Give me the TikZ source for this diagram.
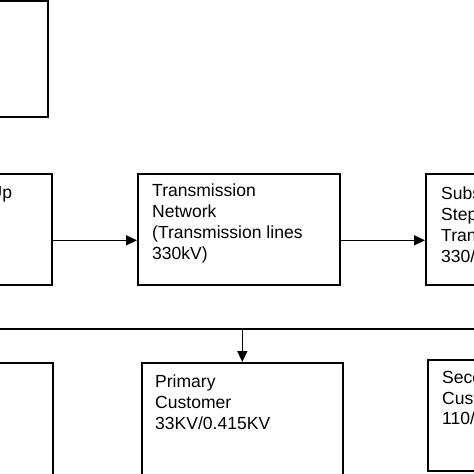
\documentclass[tikz,border=0pt]{standalone}
\usepackage{fontspec}
\setmainfont{Liberation Sans}
\usetikzlibrary{arrows.meta}
\begin{document}
\begin{tikzpicture}[x=1bp,y=-1bp,
    box/.style={draw,line width=1.6bp,inner sep=0,anchor=north west},
    txt/.style={anchor=north west,inner sep=0,align=left,font=\fontsize{17.6}{20.8}\selectfont},
    arr/.style={line width=1.5bp,-{Triangle[length=11bp,width=10bp]}}]
    \useasboundingbox (0,0) rectangle (474,474);
    \clip (0,0) rectangle (474,474);
    \def\h{111bp}
    % top row
    \node[box,minimum width=107bp,minimum height=115.5bp] (gen) at (-60,0.5) {};
    % middle row
    \node[box,minimum width=111bp,minimum height=\h] (stepup) at (-60,173) {};
    \node[box,minimum width=202bp,minimum height=\h] (trans) at (137,173) {};
    \node[box,minimum width=120bp,minimum height=\h] (subst) at (425,173) {};
    \node[txt] (stepuptxt) at ([shift={(49.5bp,-13bp)}]stepup.north west) {Up};
    \node[txt] (transtxt) at ([shift={(15bp,-11bp)}]trans.north west)
      {Transmission\\Network\\(Transmission lines\\330kV)};
    \node[txt] (substtxt) at ([shift={(16bp,-14bp)}]subst.north west)
      {Subs\\Step\\Tran\\330/};
    \draw[arr] ([yshift=-11bp]stepup.east) -- ([yshift=-11bp]trans.west);
    \draw[arr] ([yshift=-11bp]trans.east) -- ([yshift=-11bp]subst.west);
    % bottom row
    \node[box,minimum width=112bp,minimum height=111.5bp] (leftcust) at (-60,362) {};
    \node[box,minimum width=201bp,minimum height=111.5bp] (primary) at (141,362) {};
    \node[box,minimum width=120bp,minimum height=\h] (secondary) at (427,359) {};
    \node[txt] (primarytxt) at ([shift={(14bp,-13bp)}]primary.north west)
      {Primary\\Customer\\33KV/0.415KV};
    \node[txt] (secondarytxt) at ([shift={(15bp,-12bp)}]secondary.north west)
      {Seco\\Cust\\110/};
    % bus line
    \coordinate (busL) at (-10,329);
    \coordinate (busR) at (490,329);
    \draw[line width=1.5bp] (busL) -- (busR);
    \draw[arr] (busL -| primary.north) -- (primary.north);
\end{tikzpicture}
\end{document}
